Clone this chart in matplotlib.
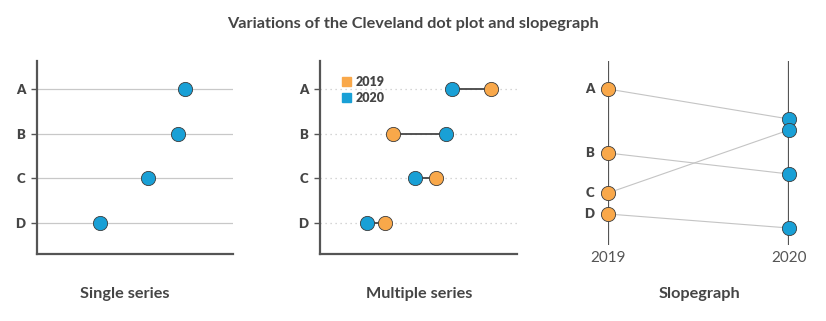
import matplotlib
matplotlib.use('Agg')
import matplotlib.pyplot as plt
from matplotlib.patches import Rectangle

plt.rcParams['font.family'] = ['Lato', 'DejaVu Sans']

# data
categories = ['A', 'B', 'C', 'D']
single_values = [75.5, 72, 56.5, 32]
multi_2019 = [87, 37, 59, 33]
multi_2020 = [67, 64, 48, 24]
slope_2019 = [156, 92, 52, 31]
slope_2020 = [126, 71, 115, 17]
years = ['2019', '2020']

BLUE = '#19a0d6'
ORANGE = '#f9a84a'
DARK = '#454545'
SPINE = '#555555'
EDGE = '#3c3c3c'
W, H = 826, 321


def px_axes(fig, left, top, right, bottom):
    return fig.add_axes([left / W, 1 - bottom / H, (right - left) / W, (bottom - top) / H])


def dot_axes(ax, grid_style):
    ax.set_xlim(0, 100)
    ax.set_ylim(3.69, -0.63)  # A at top
    ax.set_yticks(range(len(categories)))
    ax.set_yticklabels(categories, fontsize=9.5, fontweight='heavy', color=DARK)
    ax.set_xticks([])
    for s in ['top', 'right']:
        ax.spines[s].set_visible(False)
    for s in ['left', 'bottom']:
        ax.spines[s].set_color(SPINE)
        ax.spines[s].set_linewidth(1.6)
    ax.tick_params(axis='y', length=4, width=1, color=SPINE, pad=4.5)
    for i in range(len(categories)):
        ax.axhline(i, color='#c8c8c8', lw=0.9, zorder=0, **grid_style)


fig = plt.figure(figsize=(8.26, 3.21), dpi=100)
fig.text(413 / W, 1 - 24 / H, 'Variations of the Cleveland dot plot and slopegraph',
         ha='center', va='center', fontsize=11.7, fontweight='bold', color=DARK)

# single series
ax1 = px_axes(fig, 37, 61, 233, 254)
dot_axes(ax1, {'linestyle': '-'})
ax1.scatter(single_values, range(len(categories)), s=105, color=BLUE,
            edgecolor=EDGE, linewidth=0.6, zorder=3, clip_on=False)
fig.text(125 / W, 1 - 294 / H, 'Single series', ha='center', va='center',
         fontsize=11.7, fontweight='bold', color=DARK)

# multiple series
ax2 = px_axes(fig, 320, 61, 517, 254)
dot_axes(ax2, {'linestyle': (0, (1, 3))})
for i in range(len(categories)):
    ax2.plot([multi_2019[i], multi_2020[i]], [i, i], color=DARK, lw=1.3, zorder=2)
ax2.scatter(multi_2019, range(len(categories)), s=105, color=ORANGE,
            edgecolor=EDGE, linewidth=0.6, zorder=3)
ax2.scatter(multi_2020, range(len(categories)), s=105, color=BLUE,
            edgecolor=EDGE, linewidth=0.6, zorder=3)
for k, (yr, col) in enumerate(zip(years, [ORANGE, BLUE])):
    ax2.add_patch(Rectangle((342 / W, 1 - (86 + 16 * k) / H), 9 / W, 9 / H,
                            transform=fig.transFigure, color=col, clip_on=False))
    fig.text(356 / W, 1 - (82 + 16 * k) / H, yr, ha='left', va='center',
             fontsize=9, fontweight='heavy', color=DARK)
fig.text(419 / W, 1 - 294 / H, 'Multiple series', ha='center', va='center',
         fontsize=11.7, fontweight='bold', color=DARK)

# slopegraph
ax3 = px_axes(fig, 608, 61, 789, 245)
ax3.set_xlim(0, 1)
ax3.set_ylim(0, 184)
ax3.axis('off')
for x in [0, 1]:
    ax3.axvline(x, color=SPINE, lw=1.6, zorder=1)
for i, c in enumerate(categories):
    ax3.plot([0, 1], [slope_2019[i], slope_2020[i]], color='#c4c4c4', lw=0.8, zorder=2)
    ax3.text(-0.075, slope_2019[i], c, ha='right', va='center', fontsize=9.5,
             fontweight='heavy', color=DARK)
ax3.scatter([0] * len(categories), slope_2019, s=105, color=ORANGE,
            edgecolor=EDGE, linewidth=0.6, zorder=3, clip_on=False)
ax3.scatter([1] * len(categories), slope_2020, s=105, color=BLUE,
            edgecolor=EDGE, linewidth=0.6, zorder=3, clip_on=False)
for x, yr in zip([0, 1], years):
    ax3.text(x, -13, yr, ha='center', va='center', fontsize=11, color='#555555')
fig.text(699 / W, 1 - 294 / H, 'Slopegraph', ha='center', va='center',
         fontsize=11.7, fontweight='bold', color=DARK)

fig.savefig('out.png', dpi=100)
